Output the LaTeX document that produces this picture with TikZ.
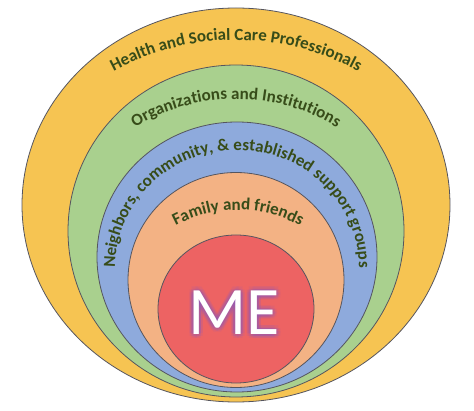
\documentclass[tikz,border=0pt]{standalone}
\usepackage{fontspec}
\setmainfont{Carlito}
\usepackage{tikz}
\usetikzlibrary{decorations.text}
\definecolor{ringyellow}{RGB}{246,196,82}
\definecolor{ringgreen}{RGB}{169,208,142}
\definecolor{ringblue}{RGB}{142,170,220}
\definecolor{ringorange}{RGB}{243,178,132}
\definecolor{ringred}{RGB}{237,99,99}
\definecolor{labeltext}{RGB}{55,76,25}
\definecolor{rimgray}{RGB}{85,85,95}
\definecolor{meglow}{RGB}{140,90,190}

\newcommand{\lblfont}{\bfseries\fontsize{17}{18}\selectfont}

\begin{document}
\begin{tikzpicture}[x=1pt,y=1pt,
  ring/.style={draw=rimgray, line width=0.8pt},
  arclabel/.style={decorate, decoration={text along path, text align=center,
    text color=labeltext, text={|\lblfont|#1}}},
  glowtext/.style={text=meglow, opacity=0.13, font=\fontsize{68}{68}\selectfont},
  metext/.style={text=white, font=\fontsize{68}{68}\selectfont}]
  \useasboundingbox (0,0) rectangle (474,410);

  % rings, outer to inner
  \draw[ring, fill=ringyellow] (236,205) ellipse [x radius=214, y radius=197];
  \draw[ring, fill=ringgreen]  (236,179) ellipse [x radius=168, y radius=166];
  \draw[ring, fill=ringblue]   (237,153) ellipse [x radius=140, y radius=135];
  \draw[ring, fill=ringorange] (236,130) ellipse [x radius=108, y radius=107.5];
  \draw[ring, fill=ringred]    (236,101) ellipse [x radius=78, y radius=74];

  % curved labels
  \path[arclabel={Health and Social Care Professionals}]
    plot[domain=128:52, samples=60] ({236+255*cos(\x)},{115+255*sin(\x)});
  \path[arclabel={Organizations and Institutions}]
    plot[domain=138:42, samples=60] ({236+193*cos(\x)},{118+193*sin(\x)});
  \path[arclabel={Neighbors, community, {\&} established support groups}]
    plot[domain=195:-15, samples=100] ({237+122*cos(\x)},{142+118*sin(\x)});
  \path[arclabel={Family and friends}]
    plot[domain=145:35, samples=60] ({238+130*cos(\x)},{70+130*sin(\x)});

  % centre text with glow
  \coordinate (mepos) at (234,97);
  \foreach \ang in {0,45,...,315}
    \node[glowtext] at ([shift={(\ang:2.5pt)}]mepos) {ME};
  \foreach \ang in {22.5,67.5,...,337.5}
    \node[glowtext] at ([shift={(\ang:4.5pt)}]mepos) {ME};
  \node[metext] (me) at (mepos) {ME};
\end{tikzpicture}
\end{document}
